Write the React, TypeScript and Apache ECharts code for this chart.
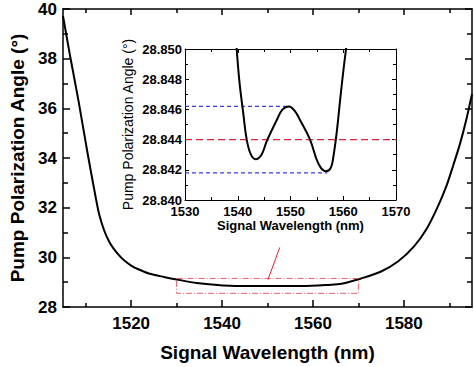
import React, { useEffect, useRef } from "react";
import * as echarts from "echarts";

// ---- main curve ----
const mainWavelength = [1505, 1506.5, 1508.5, 1510.4, 1512.2, 1513.0, 1514.1, 1515.2, 1516.3, 1517.4, 1518.5, 1520, 1521.7, 1523.9, 1527.2, 1530, 1534.4, 1541.7, 1550.4, 1557.6, 1563.5, 1566.3, 1570.6, 1575, 1578.7, 1582.2, 1585, 1587.4, 1589.4, 1590.9, 1592.4, 1593.7, 1595];
const mainAngle = [39.72, 38.17, 36.21, 34.2, 32.41, 31.7, 31.06, 30.62, 30.31, 30.07, 29.87, 29.67, 29.51, 29.35, 29.21, 29.11, 28.97, 28.86, 28.845, 28.843, 28.89, 28.935, 29.15, 29.43, 29.83, 30.43, 31.14, 32.01, 32.89, 33.72, 34.6, 35.51, 36.58];

// ---- inset curve ----
const insetWavelength = [1539.7, 1540.3, 1541.06, 1541.7, 1542.5, 1543.4, 1544.5, 1545.5, 1547.4, 1548.5, 1549.7, 1550.8, 1551.8, 1553.7, 1555.3, 1556.7, 1557.6, 1558.1, 1558.8, 1559.4, 1560.0, 1560.6];
const insetAngle = [28.8505, 28.8479, 28.8457, 28.844, 28.843, 28.8427, 28.843, 28.8439, 28.8453, 28.846, 28.8462, 28.8459, 28.8453, 28.844, 28.8424, 28.8419, 28.8421, 28.8428, 28.8446, 28.8466, 28.8485, 28.8502];

// reference lines in inset
const upperLevelX = [1530, 1550];
const upperLevel = 28.8462;
const lowerLevelX = [1530, 1557];
const lowerLevel = 28.8418;
const midLevelX = [1530, 1570];
const midLevel = 28.844;

// zoom box and arrow in main plot
const boxX = [1530, 1570, 1570, 1530, 1530];
const boxY = [29.15, 29.15, 28.55, 28.55, 29.15];
const arrowFrom = [1550.1, 29.1];
const arrowTo = [1552.7, 30.4];

// ticks
const mainXMajor = [1520, 1540, 1560, 1580];
const mainXMinor = [1510, 1530, 1550, 1570, 1590];

const FONT = "'Liberation Sans', Arial, sans-serif";

const zip = (a: number[], b: number[]) => a.map((v, i) => [v, b[i]]);

export default function App() {
  const ref = useRef<HTMLDivElement>(null);
  useEffect(() => {
    if (!ref.current) return;
    const chart = echarts.init(ref.current, undefined, { renderer: "svg" });
    const axisLine = { show: true, lineStyle: { color: "#000", width: 1.5 } };
    const plain = (v: number) => String(v);
    const mainX = { type: "value", gridIndex: 0, min: 1505, max: 1595, splitLine: { show: false } };
    const insetX = { type: "value", gridIndex: 1, min: 1530, max: 1570, interval: 10, splitLine: { show: false } };
    const option: any = {
      animation: false,
      backgroundColor: "#fff",
      grid: [
        { left: 58, top: 9, width: 414, height: 302 },
        { left: 185, top: 49, width: 211, height: 151, show: false },
      ],
      xAxis: [
        {
          ...mainX,
          position: "bottom",
          axisLine,
          axisTick: { show: true, inside: true, length: 7, lineStyle: { color: "#000", width: 1.5 }, customValues: mainXMajor },
          axisLabel: { color: "#000", fontFamily: FONT, fontWeight: "bold", fontSize: 17, margin: 8, customValues: mainXMajor, formatter: plain },
          name: "Signal Wavelength (nm)",
          nameLocation: "middle",
          nameGap: 36,
          nameTextStyle: { color: "#000", fontFamily: FONT, fontWeight: "bold", fontSize: 19 },
        },
        {
          ...mainX,
          position: "bottom",
          axisLine: { show: false },
          axisTick: { show: true, inside: true, length: 4, lineStyle: { color: "#000", width: 1.5 }, customValues: mainXMinor },
          axisLabel: { show: false },
        },
        {
          ...mainX,
          position: "top",
          axisLine,
          axisTick: { show: true, inside: true, length: 6, lineStyle: { color: "#000", width: 1.5 }, customValues: mainXMajor },
          axisLabel: { show: false },
        },
        {
          ...mainX,
          position: "top",
          axisLine: { show: false },
          axisTick: { show: true, inside: true, length: 4, lineStyle: { color: "#000", width: 1.5 }, customValues: mainXMinor },
          axisLabel: { show: false },
        },
        {
          ...insetX,
          position: "bottom",
          axisLine: { show: true, lineStyle: { color: "#000", width: 1 } },
          axisTick: { show: true, inside: true, length: 4, lineStyle: { color: "#000" } },
          minorTick: { show: true, splitNumber: 2, length: 3, lineStyle: { color: "#000" } },
          axisLabel: { color: "#000", fontFamily: FONT, fontWeight: "bold", fontSize: 13, margin: 5, formatter: plain },
          name: "Signal Wavelength (nm)",
          nameLocation: "middle",
          nameGap: 18,
          nameTextStyle: { color: "#000", fontFamily: FONT, fontWeight: "bold", fontSize: 13 },
        },
        {
          ...insetX,
          position: "top",
          axisLine: { show: true, lineStyle: { color: "#000", width: 1 } },
          axisTick: { show: true, inside: true, length: 4, lineStyle: { color: "#000" } },
          minorTick: { show: true, splitNumber: 2, length: 3, lineStyle: { color: "#000" } },
          axisLabel: { show: false },
        },
      ],
      yAxis: [
        {
          type: "value",
          gridIndex: 0,
          min: 28,
          max: 40,
          interval: 2,
          position: "left",
          splitLine: { show: false },
          axisLine,
          axisTick: { show: true, inside: true, length: 7, lineStyle: { color: "#000", width: 1.5 } },
          minorTick: { show: true, splitNumber: 2, length: 5, lineStyle: { color: "#000", width: 1.5 } },
          axisLabel: { color: "#000", fontFamily: FONT, fontWeight: "bold", fontSize: 17, margin: 6 },
          name: "Pump Polarization Angle (°)",
          nameLocation: "middle",
          nameGap: 36,
          nameTextStyle: { color: "#000", fontFamily: FONT, fontWeight: "bold", fontSize: 19 },
        },
        {
          type: "value",
          gridIndex: 0,
          min: 28,
          max: 40,
          interval: 2,
          position: "right",
          splitLine: { show: false },
          axisLine,
          axisTick: { show: true, inside: true, length: 7, lineStyle: { color: "#000", width: 1.5 } },
          minorTick: { show: true, splitNumber: 2, length: 5, lineStyle: { color: "#000", width: 1.5 } },
          axisLabel: { show: false },
        },
        {
          type: "value",
          gridIndex: 1,
          min: 28.84,
          max: 28.85,
          interval: 0.002,
          position: "left",
          splitLine: { show: false },
          axisLine: { show: true, lineStyle: { color: "#000", width: 1 } },
          axisTick: { show: true, inside: true, length: 4, lineStyle: { color: "#000" } },
          minorTick: { show: true, splitNumber: 2, length: 3, lineStyle: { color: "#000" } },
          axisLabel: { color: "#000", fontFamily: FONT, fontWeight: "bold", fontSize: 13, margin: 3, formatter: (v: number) => v.toFixed(3) },
          name: "Pump Polarization Angle (°)",
          nameLocation: "middle",
          nameGap: 50,
          nameTextStyle: { color: "#000", fontFamily: FONT, fontWeight: "normal", fontSize: 14 },
        },
        {
          type: "value",
          gridIndex: 1,
          min: 28.84,
          max: 28.85,
          interval: 0.002,
          position: "right",
          splitLine: { show: false },
          axisLine: { show: true, lineStyle: { color: "#000", width: 1 } },
          axisTick: { show: true, inside: true, length: 4, lineStyle: { color: "#000" } },
          minorTick: { show: true, splitNumber: 2, length: 3, lineStyle: { color: "#000" } },
          axisLabel: { show: false },
        },
      ],
      series: [
        {
          type: "line",
          xAxisIndex: 0,
          yAxisIndex: 0,
          data: zip(mainWavelength, mainAngle),
          smooth: 0.3,
          showSymbol: false,
          lineStyle: { color: "#000", width: 2 },
        },
        {
          type: "line",
          xAxisIndex: 0,
          yAxisIndex: 0,
          data: zip(boxX, boxY),
          showSymbol: false,
          lineStyle: { color: "#e8606e", width: 1, type: [6, 2, 1, 2] },
          markLine: {
            silent: true,
            symbol: ["none", "arrow"],
            symbolSize: [0, 8],
            label: { show: false },
            lineStyle: { color: "#e8202e", width: 1, type: "solid" },
            data: [[{ coord: arrowFrom }, { coord: arrowTo }]],
          },
        },
        {
          type: "line",
          xAxisIndex: 4,
          yAxisIndex: 2,
          data: zip(upperLevelX, upperLevelX.map(() => upperLevel)),
          showSymbol: false,
          lineStyle: { color: "#3a3ae8", width: 1.2, type: [4, 3] },
        },
        {
          type: "line",
          xAxisIndex: 4,
          yAxisIndex: 2,
          data: zip(lowerLevelX, lowerLevelX.map(() => lowerLevel)),
          showSymbol: false,
          lineStyle: { color: "#3a3ae8", width: 1.2, type: [4, 3] },
        },
        {
          type: "line",
          xAxisIndex: 4,
          yAxisIndex: 2,
          data: zip(midLevelX, midLevelX.map(() => midLevel)),
          showSymbol: false,
          lineStyle: { color: "#e0203c", width: 1.4, type: [7, 4] },
        },
        {
          type: "line",
          xAxisIndex: 4,
          yAxisIndex: 2,
          data: zip(insetWavelength, insetAngle),
          smooth: 0.4,
          showSymbol: false,
          clip: true,
          lineStyle: { color: "#000", width: 2 },
        },
      ],
    };
    chart.setOption(option);
    return () => chart.dispose();
  }, []);
  return <div ref={ref} style={{ width: 474, height: 367, position: "absolute", left: 0, top: 0 }} />;
}
